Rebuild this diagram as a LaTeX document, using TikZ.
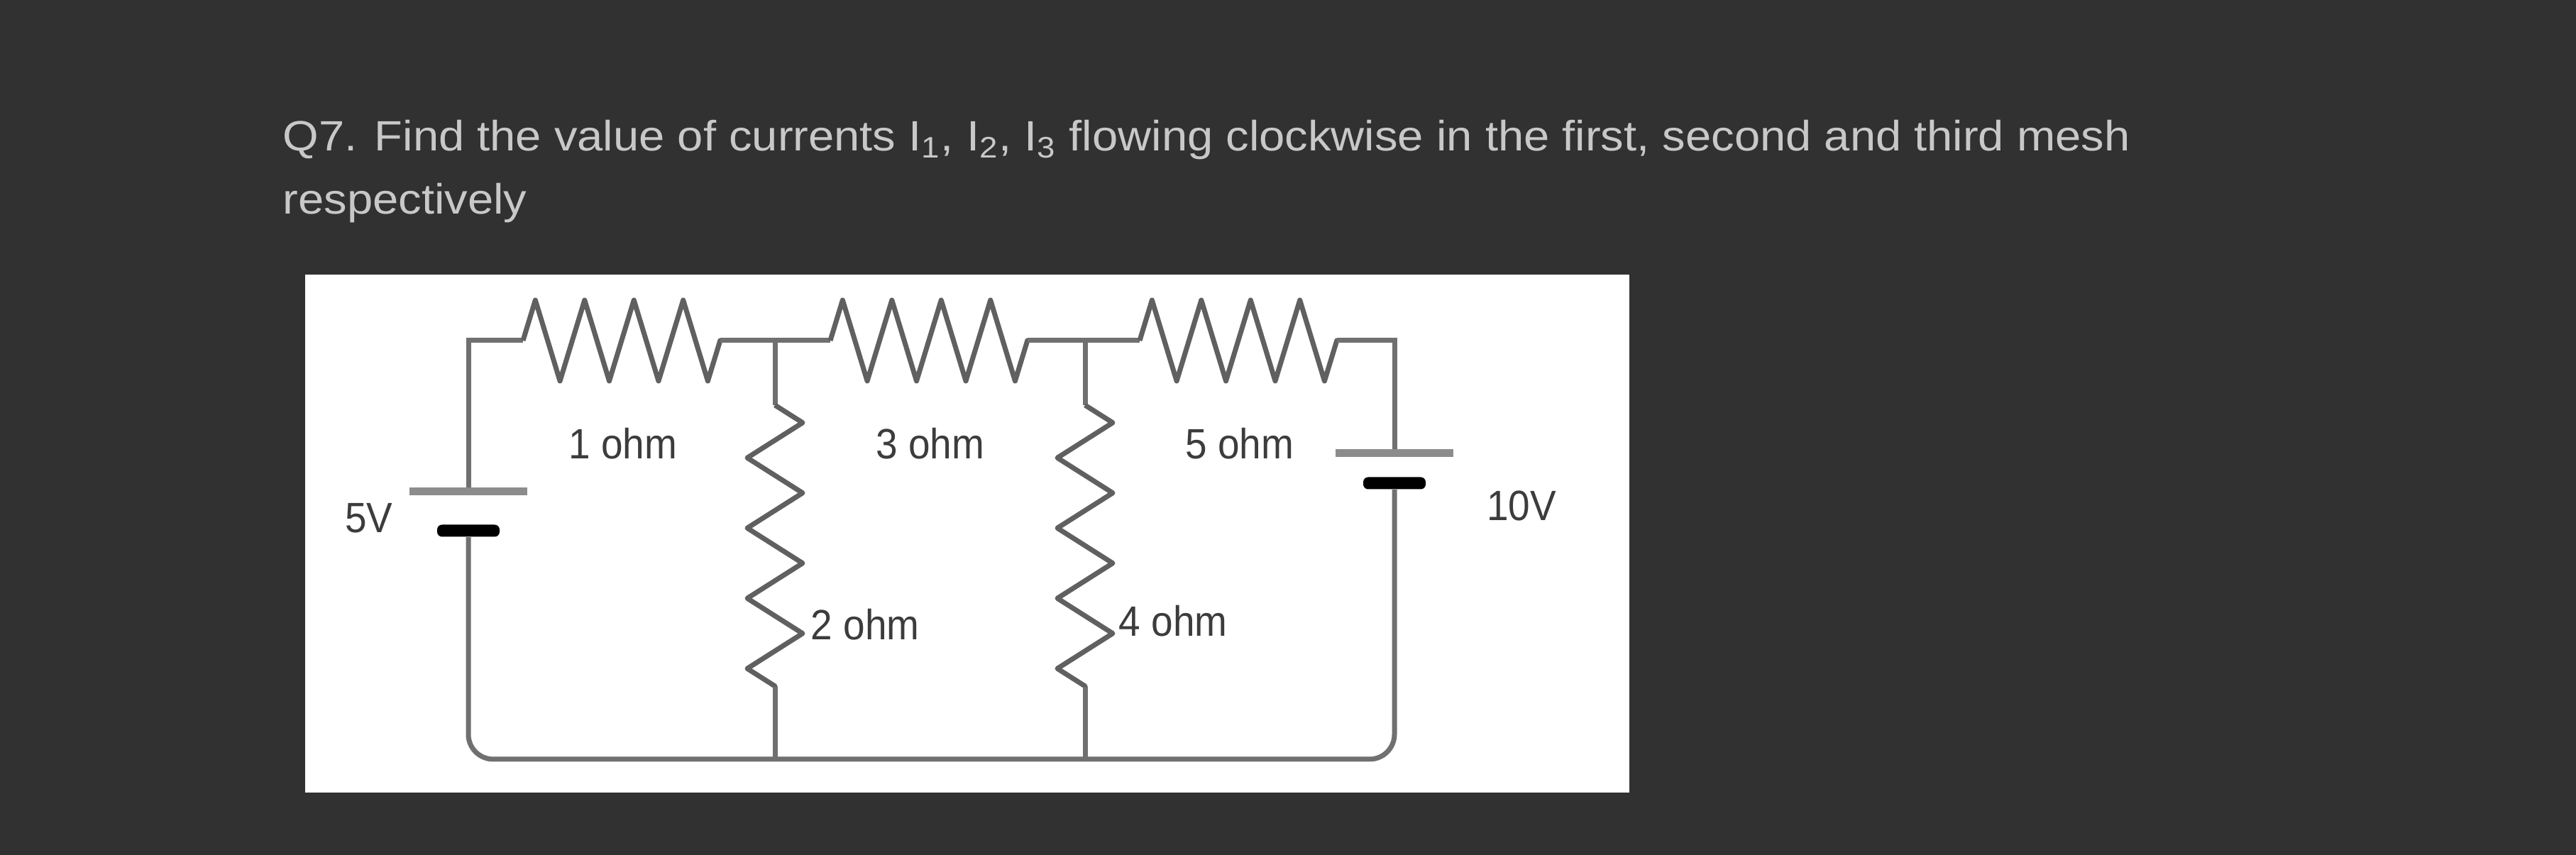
\documentclass[tikz,border=0pt]{standalone}
\usepackage{fontspec}
\setmainfont{Liberation Sans}
\newfontfamily\qfont[FakeStretch=1.09]{Liberation Sans}
\newfontfamily\ohmfont[FakeStretch=0.92]{Liberation Sans}
\usetikzlibrary{decorations.pathmorphing}
\definecolor{bgdark}{RGB}{49,49,49}
\definecolor{qtext}{RGB}{200,200,200}
\definecolor{wiregray}{RGB}{112,112,112}
\definecolor{zzgray}{RGB}{96,96,96}
\definecolor{plategray}{RGB}{140,140,140}
\definecolor{lbltext}{RGB}{60,60,60}

\begin{document}
\begin{tikzpicture}[
    wire/.style={draw=wiregray, line width=0.07cm},
    hres/.style={wire, draw=zzgray, line join=round, decorate,
        decoration={zigzag, segment length=0.6945cm, amplitude=0.57cm}},
    vres/.style={wire, draw=zzgray, line join=round, decorate,
        decoration={zigzag, segment length=0.99cm, amplitude=0.39cm}},
    longplate/.style={fill=plategray, minimum width=1.66cm, minimum height=0.11cm, inner sep=0pt},
    shortplate/.style={fill=black, rounded corners=0.07cm, minimum width=0.88cm, minimum height=0.17cm, inner sep=0pt},
    ohm/.style={font=\ohmfont\fontsize{17}{20}\selectfont, text=lbltext, inner sep=0pt},
    question/.style={anchor=base west, inner sep=0pt, text=qtext, font=\qfont\fontsize{17}{20}\selectfont}
]
    \useasboundingbox (0,0) rectangle (36.30,-12.05);
    \fill[bgdark] (0,0) rectangle (36.30,-12.05);
    \fill[white] (4.30,-3.87) rectangle (22.96,-11.17);

    \node[question] (q1) at (3.98,-2.13) {Q7. Find the value of currents I\textsubscript{1}, I\textsubscript{2}, I\textsubscript{3} flowing clockwise in the first, second and third mesh};
    \node[question] (q2) at (3.98,-3.02) {respectively};

    % junctions
    \coordinate (A) at (6.60,-4.80);
    \coordinate (B) at (10.92,-4.80);
    \coordinate (C) at (15.29,-4.80);
    \coordinate (D) at (19.65,-4.80);
    \coordinate (Abot) at (6.60,-10.70);
    \coordinate (Bbot) at (10.92,-10.70);
    \coordinate (Cbot) at (15.29,-10.70);
    \coordinate (Dbot) at (19.65,-10.70);

    % resistor ends
    \coordinate (R1a) at (7.37,-4.80);
    \coordinate (R1b) at (10.15,-4.80);
    \coordinate (R3a) at (11.70,-4.80);
    \coordinate (R3b) at (14.48,-4.80);
    \coordinate (R5a) at (16.06,-4.80);
    \coordinate (R5b) at (18.84,-4.80);
    \coordinate (R2a) at (10.92,-5.71);
    \coordinate (R2b) at (10.92,-9.68);
    \coordinate (R4a) at (15.29,-5.71);
    \coordinate (R4b) at (15.29,-9.68);

    % batteries
    \node[longplate] (V1p) at (6.60,-6.93) {};
    \node[shortplate] (V1n) at (6.60,-7.48) {};
    \node[longplate] (V2p) at (19.65,-6.39) {};
    \node[shortplate] (V2n) at (19.65,-6.81) {};

    \draw[wire] (V1p) -- (A) -- (R1a);
    \draw[hres] (R1a) -- (R1b);
    \draw[wire] (R1b) -- (R3a);
    \draw[hres] (R3a) -- (R3b);
    \draw[wire] (R3b) -- (R5a);
    \draw[hres] (R5a) -- (R5b);
    \draw[wire] (R5b) -- (D) -- (V2p);

    \draw[wire] (B) -- (R2a);
    \draw[vres] (R2a) -- (R2b);
    \draw[wire] (R2b) -- (Bbot);
    \draw[wire] (C) -- (R4a);
    \draw[vres] (R4a) -- (R4b);
    \draw[wire] (R4b) -- (Cbot);

    \draw[wire, rounded corners=0.35cm] (V1n) -- (Abot) -- (Dbot) -- (V2n);

    % labels
    \node[ohm] (l1) at (8.78,-6.25) {1 ohm};
    \node[ohm] (l3) at (13.11,-6.25) {3 ohm};
    \node[ohm] (l5) at (17.47,-6.25) {5 ohm};
    \node[ohm, anchor=west] (l2) at (11.42,-8.80) {2 ohm};
    \node[ohm, anchor=west] (l4) at (15.76,-8.75) {4 ohm};
    \node[ohm] (e1) at (5.20,-7.30) {5V};
    \node[ohm] (e2) at (21.44,-7.13) {10V};
\end{tikzpicture}
\end{document}
